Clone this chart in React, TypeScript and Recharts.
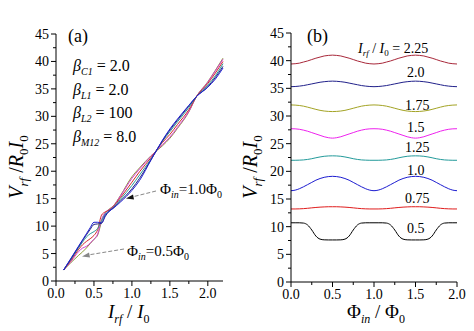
import React from "react";
import { LineChart, Line, XAxis, YAxis } from "recharts";

const FONT = '"Liberation Serif", "Times New Roman", "DejaVu Serif", serif';

// panel (a): V vs I for several input fluxes
const currents = [0.1, 0.2, 0.3, 0.35, 0.4, 0.45, 0.5, 0.55, 0.6, 0.65, 0.7, 0.75, 0.85, 1.0, 1.1, 1.25, 1.4, 1.5, 1.6, 1.75, 1.85, 2.0, 2.1, 2.2];
const vPhi05 = [2, 3.4, 4.7, 5.3, 6.0, 6.8, 7.6, 8.4, 10.8, 12.4, 13.1, 13.6, 15.6, 19.0, 20.6, 22.8, 24.6, 26.0, 27.8, 30.8, 33.6, 36.3, 38.4, 40.6];
const vPhi06 = [2, 3.6, 5.4, 6.0, 6.3, 6.9, 7.6, 8.6, 11.2, 12.5, 13.0, 13.55, 15.5, 18.7, 20.4, 22.7, 24.8, 26.2, 28.0, 30.9, 33.6, 36.2, 38.3, 40.4];
const vPhi07 = [2, 3.8, 5.8, 6.6, 7.2, 7.7, 8.3, 9.4, 12.0, 12.6, 12.9, 13.5, 15.2, 18.0, 19.9, 22.45, 25.2, 26.7, 28.5, 31.2, 33.6, 36.0, 37.9, 40.0];
const vPhi08 = [2, 4.0, 6.1, 7.1, 8.0, 8.6, 9.0, 9.6, 11.0, 12.2, 12.8, 13.35, 14.9, 17.4, 19.3, 22.2, 25.4, 27.2, 29.0, 31.6, 33.6, 35.7, 37.4, 39.6];
const vPhi09 = [2, 4.1, 6.3, 7.4, 8.4, 9.4, 10.3, 10.4, 10.5, 11.8, 12.7, 13.25, 14.6, 16.8, 18.7, 22.05, 25.5, 27.5, 29.3, 31.9, 33.6, 35.4, 37.1, 39.1];
const vPhi10 = [2, 4.2, 6.4, 7.5, 8.6, 9.7, 10.7, 10.7, 10.6, 12.0, 12.7, 13.2, 14.4, 16.5, 18.3, 22.0, 25.6, 27.7, 29.5, 32.0, 33.6, 35.3, 36.8, 38.8];

// panel (b): V vs flux for several rf currents
const fluxes = [0, 0.05, 0.1, 0.15, 0.2, 0.25, 0.3, 0.35, 0.4, 0.45, 0.5, 0.55, 0.6, 0.65, 0.7, 0.75, 0.8, 0.85, 0.9, 0.95, 1.0,
  1.05, 1.1, 1.15, 1.2, 1.25, 1.3, 1.35, 1.4, 1.45, 1.5, 1.55, 1.6, 1.65, 1.7, 1.75, 1.8, 1.85, 1.9, 1.95, 2.0];
const vI225 = [39.4, 39.45, 39.55, 39.75, 39.95, 40.2, 40.45, 40.65, 40.85, 40.95, 41.0, 40.95, 40.85, 40.65, 40.45, 40.2, 39.95, 39.75, 39.55, 39.45, 39.4,
  39.45, 39.55, 39.75, 39.95, 40.2, 40.45, 40.65, 40.85, 40.95, 41.0, 40.95, 40.85, 40.65, 40.45, 40.2, 39.95, 39.75, 39.55, 39.45, 39.4];
const vI200 = [35.3, 35.33, 35.4, 35.5, 35.65, 35.8, 35.95, 36.1, 36.2, 36.27, 36.3, 36.27, 36.2, 36.1, 35.95, 35.8, 35.65, 35.5, 35.4, 35.33, 35.3,
  35.33, 35.4, 35.5, 35.65, 35.8, 35.95, 36.1, 36.2, 36.27, 36.3, 36.27, 36.2, 36.1, 35.95, 35.8, 35.65, 35.5, 35.4, 35.33, 35.3];
const vI175 = [32.0, 31.97, 31.9, 31.78, 31.6, 31.4, 31.2, 31.02, 30.9, 30.83, 30.8, 30.83, 30.9, 31.02, 31.2, 31.4, 31.6, 31.78, 31.9, 31.97, 32.0,
  31.97, 31.9, 31.78, 31.6, 31.4, 31.2, 31.02, 30.9, 30.83, 30.8, 30.83, 30.9, 31.02, 31.2, 31.4, 31.6, 31.78, 31.9, 31.97, 32.0];
const vI150 = [27.7, 27.68, 27.6, 27.45, 27.25, 27.0, 26.75, 26.5, 26.25, 26.08, 26.0, 26.08, 26.25, 26.5, 26.75, 27.0, 27.25, 27.45, 27.6, 27.68, 27.7,
  27.68, 27.6, 27.45, 27.25, 27.0, 26.75, 26.5, 26.25, 26.08, 26.0, 26.08, 26.25, 26.5, 26.75, 27.0, 27.25, 27.45, 27.6, 27.68, 27.7];
const vI125 = [22.0, 22.0, 22.02, 22.06, 22.15, 22.28, 22.45, 22.6, 22.72, 22.78, 22.8, 22.78, 22.72, 22.6, 22.45, 22.28, 22.15, 22.06, 22.02, 22.0, 22.0,
  22.0, 22.02, 22.06, 22.15, 22.28, 22.45, 22.6, 22.72, 22.78, 22.8, 22.78, 22.72, 22.6, 22.45, 22.28, 22.15, 22.06, 22.02, 22.0, 22.0];
const vI100 = [16.5, 16.6, 16.85, 17.2, 17.6, 18.0, 18.4, 18.7, 18.92, 19.05, 19.1, 19.05, 18.92, 18.7, 18.4, 18.0, 17.6, 17.2, 16.85, 16.6, 16.5,
  16.6, 16.85, 17.2, 17.6, 18.0, 18.4, 18.7, 18.92, 19.05, 19.1, 19.05, 18.92, 18.7, 18.4, 18.0, 17.6, 17.2, 16.85, 16.6, 16.5];
const vI075 = [13.2, 13.2, 13.22, 13.26, 13.32, 13.4, 13.47, 13.53, 13.57, 13.6, 13.6, 13.6, 13.57, 13.53, 13.47, 13.4, 13.32, 13.26, 13.22, 13.2, 13.2,
  13.2, 13.22, 13.26, 13.32, 13.4, 13.47, 13.53, 13.57, 13.6, 13.6, 13.6, 13.57, 13.53, 13.47, 13.4, 13.32, 13.26, 13.22, 13.2, 13.2];
const vI050 = [10.7, 10.7, 10.7, 10.65, 10.3, 9.4, 8.3, 7.75, 7.62, 7.6, 7.6, 7.6, 7.62, 7.75, 8.3, 9.4, 10.3, 10.65, 10.7, 10.7, 10.7,
  10.7, 10.7, 10.65, 10.3, 9.4, 8.3, 7.75, 7.62, 7.6, 7.6, 7.6, 7.62, 7.75, 8.3, 9.4, 10.3, 10.65, 10.7, 10.7, 10.7];

const yMajor = [0, 5, 10, 15, 20, 25, 30, 35, 40, 45];
const yMinor = [2.5, 7.5, 12.5, 17.5, 22.5, 27.5, 32.5, 37.5, 42.5];
const xMajor = [0, 0.5, 1.0, 1.5, 2.0];
const xMinor = [0.25, 0.75, 1.25, 1.75];

const seriesA = [
  { key: "p05", values: vPhi05, color: "#8c9a3c" },
  { key: "p06", values: vPhi06, color: "#d23cd2" },
  { key: "p07", values: vPhi07, color: "#d02828" },
  { key: "p08", values: vPhi08, color: "#2a9a9a" },
  { key: "p09", values: vPhi09, color: "#222280" },
  { key: "p10", values: vPhi10, color: "#2020d0" },
];
const seriesB = [
  { key: "i225", values: vI225, color: "#a8283a" },
  { key: "i200", values: vI200, color: "#20208a" },
  { key: "i175", values: vI175, color: "#a3a324" },
  { key: "i150", values: vI150, color: "#ee22ee" },
  { key: "i125", values: vI125, color: "#229a9a" },
  { key: "i100", values: vI100, color: "#1c1cd0" },
  { key: "i075", values: vI075, color: "#e01c1c" },
  { key: "i050", values: vI050, color: "#000000" },
];

const dataA = currents.map((i, k) => {
  const row: Record<string, number> = { i };
  seriesA.forEach((s) => (row[s.key] = s.values[k]));
  return row;
});
const dataB = fluxes.map((phi, k) => {
  const row: Record<string, number> = { phi };
  seriesB.forEach((s) => (row[s.key] = s.values[k]));
  return row;
});

const sorted = (a: number[], b: number[]) => [...a, ...b].sort((p, q) => p - q);
const serif = { fontFamily: FONT };

// tickSize 5 + tickMargin 3 -> axis line sits 8px from the tick anchor
const YTick = (props: any) => {
  const { x, y, payload } = props;
  const ax = x + 8;
  const major = yMajor.includes(payload.value);
  return (
    <g>
      <line x1={ax - (major ? 5 : 3)} x2={ax} y1={y} y2={y} stroke="#000" />
      {major && (
        <text x={ax - 7} y={y + 5} textAnchor="end" style={serif} fontSize={14} fill="#000">
          {payload.value}
        </text>
      )}
    </g>
  );
};

const XTick = (props: any) => {
  const { x, y, payload } = props;
  const ay = y - 8;
  const major = xMajor.includes(payload.value);
  return (
    <g>
      <line x1={x} x2={x} y1={ay} y2={ay + (major ? 5 : 3)} stroke="#000" />
      {major && (
        <text x={x} y={ay + 17} textAnchor="middle" style={serif} fontSize={14} fill="#000">
          {payload.value.toFixed(1)}
        </text>
      )}
    </g>
  );
};

const Panel = ({ data, xKey, xMax, series, width, margin }: any) => (
  <LineChart width={width} height={331} data={data} margin={margin}>
    <XAxis
      type="number"
      dataKey={xKey}
      domain={[0, xMax]}
      ticks={sorted(xMajor, xMinor)}
      interval={0}
      height={30}
      tickSize={5}
      tickMargin={3}
      tickLine={false}
      axisLine={{ stroke: "#000" }}
      tick={<XTick />}
    />
    <YAxis
      type="number"
      domain={[0, 45]}
      ticks={sorted(yMajor, yMinor)}
      interval={0}
      width={40}
      tickSize={5}
      tickMargin={3}
      tickLine={false}
      axisLine={{ stroke: "#000" }}
      tick={<YTick />}
    />
    {series.map((s: any) => (
      <Line key={s.key} type="monotone" dataKey={s.key} stroke={s.color} strokeWidth={1} dot={false} isAnimationActive={false} />
    ))}
  </LineChart>
);

const Overlay = () => (
  <svg width={474} height={331} style={{ position: "absolute", left: 0, top: 0, pointerEvents: "none", fontFamily: FONT }} fill="#000">
    {/* axis titles */}
    <text transform="translate(23,167) rotate(-90)" textAnchor="middle" fontSize={20}>
      <tspan fontStyle="italic">V</tspan>
      <tspan fontStyle="italic" fontSize={13} dy={5}>rf</tspan>
      <tspan dy={-5}> /</tspan>
      <tspan fontStyle="italic">R</tspan>
      <tspan fontSize={13} dy={5}>0</tspan>
      <tspan fontStyle="italic" dy={-5}>I</tspan>
      <tspan fontSize={13} dy={5}>0</tspan>
    </text>
    <text transform="translate(257,167) rotate(-90)" textAnchor="middle" fontSize={20}>
      <tspan fontStyle="italic">V</tspan>
      <tspan fontStyle="italic" fontSize={13} dy={5}>rf</tspan>
      <tspan dy={-5}> /</tspan>
      <tspan fontStyle="italic">R</tspan>
      <tspan fontSize={13} dy={5}>0</tspan>
      <tspan fontStyle="italic" dy={-5}>I</tspan>
      <tspan fontSize={13} dy={5}>0</tspan>
    </text>
    <text x={108} y={318} fontSize={19}>
      <tspan fontStyle="italic">I</tspan>
      <tspan fontStyle="italic" fontSize={12} dy={5}>rf</tspan>
      <tspan dy={-5}> / </tspan>
      <tspan fontStyle="italic">I</tspan>
      <tspan fontSize={12} dy={5}>0</tspan>
    </text>
    <text x={347} y={318} fontSize={19}>
      <tspan>Φ</tspan>
      <tspan fontStyle="italic" fontSize={12} dy={5}>in</tspan>
      <tspan dy={-5}> / Φ</tspan>
      <tspan fontSize={12} dy={5}>0</tspan>
    </text>

    {/* panel (a) notes */}
    <text x={68} y={42} fontSize={18}>(a)</text>
    {[
      ["C1", "2.0", 71],
      ["L1", "2.0", 95],
      ["L2", "100", 118],
      ["M12", "8.0", 142],
    ].map(([s, v, y]) => (
      <text key={s as string} x={73} y={y as number} fontSize={16}>
        <tspan fontStyle="italic">β</tspan>
        <tspan fontStyle="italic" fontSize={10} dy={4}>{s}</tspan>
        <tspan dy={-4}> = {v}</tspan>
      </text>
    ))}
    <text x={160} y={194} fontSize={15}>
      <tspan>Φ</tspan>
      <tspan fontStyle="italic" fontSize={10} dy={4}>in</tspan>
      <tspan dy={-4}>=1.0Φ</tspan>
      <tspan fontSize={10} dy={4}>0</tspan>
    </text>
    <text x={127} y={256} fontSize={15}>
      <tspan>Φ</tspan>
      <tspan fontStyle="italic" fontSize={10} dy={4}>in</tspan>
      <tspan dy={-4}>=0.5Φ</tspan>
      <tspan fontSize={10} dy={4}>0</tspan>
    </text>
    <line x1={156} y1={191} x2={132} y2={197} stroke="#888" strokeDasharray="4 2" />
    <polygon points="126,198.5 133,194.5 134,199.5" fill="#111" />
    <line x1={124} y1={249} x2={88} y2={255} stroke="#888" strokeDasharray="4 2" />
    <polygon points="82,256.5 89,252.5 90,257.5" fill="#888" />

    {/* panel (b) notes */}
    <text x={307} y={42} fontSize={18}>(b)</text>
    <text x={358} y={53} fontSize={14}>
      <tspan fontStyle="italic">I</tspan>
      <tspan fontStyle="italic" fontSize={9} dy={3}>rf</tspan>
      <tspan dy={-3}> / </tspan>
      <tspan fontStyle="italic">I</tspan>
      <tspan fontSize={9} dy={3}>0</tspan>
      <tspan dy={-3}> = 2.25</tspan>
    </text>
    {[
      ["2.0", 407, 77],
      ["1.75", 405, 110],
      ["1.5", 407, 132],
      ["1.25", 405, 152],
      ["1.0", 407, 175],
      ["0.75", 405, 203],
      ["0.5", 407, 233],
    ].map(([t, x, y]) => (
      <text key={t as string} x={x as number} y={y as number} fontSize={14}>{t}</text>
    ))}
  </svg>
);

export default function App() {
  return (
    <div style={{ position: "absolute", left: 0, top: 0, width: 474, height: 331, background: "#fff" }}>
      <div style={{ position: "absolute", left: 0, top: 0 }}>
        <Panel data={dataA} xKey="i" xMax={2.2} series={seriesA} width={235} margin={{ top: 34, right: 12, bottom: 20, left: 16 }} />
      </div>
      <div style={{ position: "absolute", left: 235, top: 0 }}>
        <Panel data={dataB} xKey="phi" xMax={2} series={seriesB} width={239} margin={{ top: 33, right: 17, bottom: 19, left: 16 }} />
      </div>
      <Overlay />
    </div>
  );
}
